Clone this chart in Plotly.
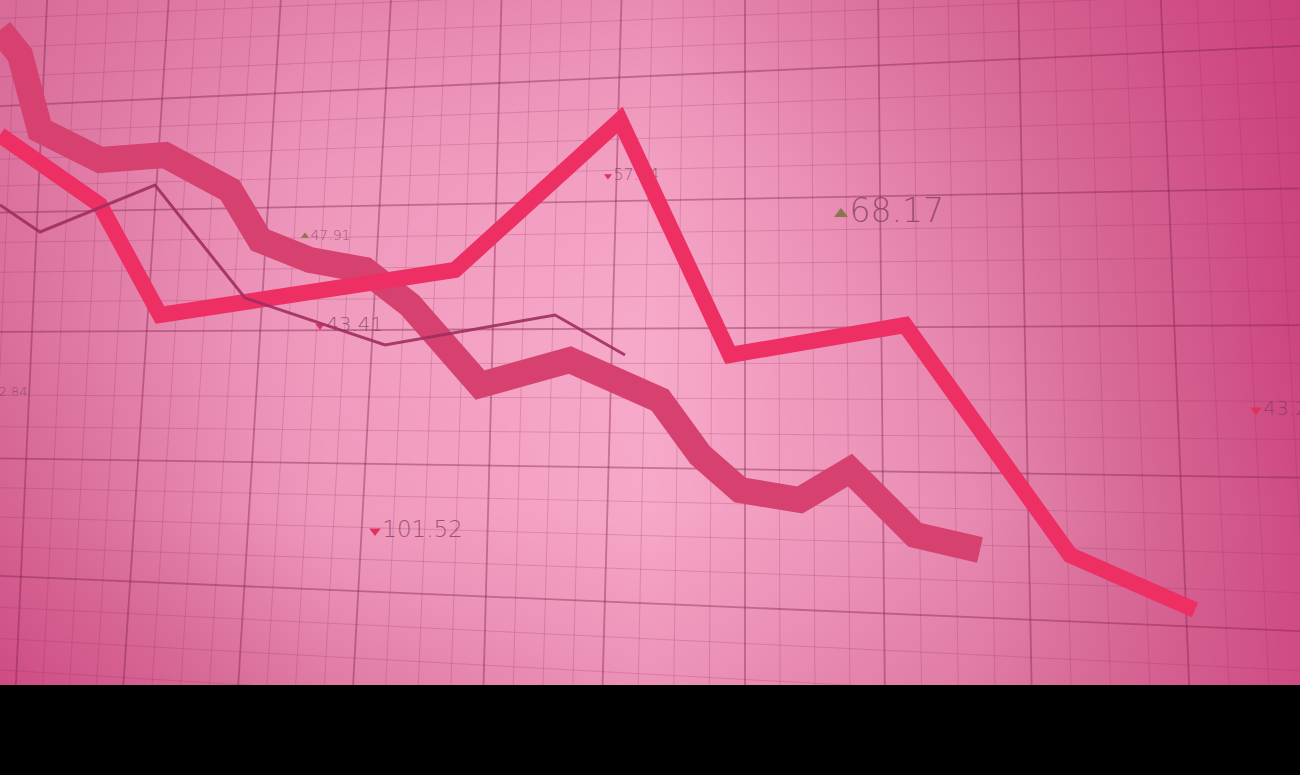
import plotly.graph_objects as go

# ---- data (x = time units, y = value units) ----
thick_x = [0, 2, 4, 10, 16.5, 23, 26, 31, 36.5, 41, 48, 57, 66, 70, 74, 80, 85, 91.5, 98]
thick_y = [65.5, 63.0, 55.5, 52.5, 53.0, 49.5, 44.5, 42.5, 41.5, 38.0, 30.0, 32.5, 28.5, 23.0, 19.5, 18.5, 21.5, 15.0, 13.5]

bright_x = [0, 10, 16, 45.5, 62, 73, 90.5, 107, 119.5]
bright_y = [55.0, 48.0, 37.0, 41.5, 56.5, 33.0, 36.0, 13.0, 7.5]

thin_x = [0, 4, 15.5, 24.5, 38.5, 55.5, 62.5]
thin_y = [48.0, 45.3, 50.0, 38.7, 34.0, 37.0, 33.0]

label_text = ["47.91", "57.34", "43.41", "68.17", "101.52", "52.84", "43.27"]
label_dir = ["up", "down", "down", "up", "down", "down", "down"]
label_x = [30.5, 60.8, 32.0, 84.1, 37.5, -1.5, 125.6]
label_y = [44.9, 50.9, 35.9, 47.1, 15.4, 29.2, 27.5]
label_size = [14, 16, 20, 33, 23, 13, 20]
marker_size = [7, 7, 8, 12, 10, 7, 10]

# background shade (0 = dark edge pink, 1 = light centre pink)
bg_x = [0, 32.5, 65, 97.5, 130]
bg_y = [68.5, 51.5, 34.5, 17.5, 0]
bg_z = [
    [0.42, 0.62, 0.70, 0.38, 0.05],
    [0.48, 0.80, 0.90, 0.52, 0.08],
    [0.45, 0.85, 1.00, 0.62, 0.10],
    [0.35, 0.82, 0.98, 0.68, 0.15],
    [0.15, 0.55, 0.75, 0.55, 0.15],
]

# perspective grid (major lines); top/bottom x of verticals, left/right y of horizontals
v_top = [-7.5, 4.8, 17.0, 28.2, 39.2, 50.2, 62.2, 74.5, 87.8, 101.8, 116.0, 130.5]
v_bot = [-10.5, 1.5, 12.2, 23.7, 35.2, 48.3, 60.2, 74.5, 88.5, 103.2, 119.0, 135.0]
h_left = [69.5, 57.8, 47.2, 35.3, 22.7, 11.0, -1.5]
h_right = [75.0, 64.0, 49.7, 36.0, 20.7, 5.3, -10.5]
X0, X1, Y0, Y1 = 0, 130, 0, 68.5

fig = go.Figure()

fig.add_trace(go.Heatmap(
    x=bg_x, y=bg_y, z=bg_z, zsmooth="best", showscale=False, hoverinfo="skip",
    zmin=0, zmax=1,
    colorscale=[[0, "#c93a76"], [0.45, "#d96e9a"], [0.75, "#ec92b8"], [1, "#f7aac9"]],
))


def grid_paths(a, b, sub):
    out = []
    for i in range(len(a) - 1):
        for k in range(1, sub):
            t = k / sub
            out.append((a[i] + (a[i + 1] - a[i]) * t, b[i] + (b[i + 1] - b[i]) * t))
    return out


def add_grid(pairs_v, pairs_h, color, width):
    gx, gy = [], []
    for top, bot in pairs_v:
        gx += [top, bot, None]
        gy += [Y1 + 2, Y0 - 2, None]
    for left, right in pairs_h:
        gx += [X0 - 2, X1 + 2, None]
        gy += [left, right, None]
    fig.add_trace(go.Scatter(x=gx, y=gy, mode="lines", hoverinfo="skip",
                             line=dict(color=color, width=width), showlegend=False))


add_grid(grid_paths(v_top, v_bot, 4), grid_paths(h_left, h_right, 4),
         "rgba(150,40,85,0.22)", 1)
add_grid(list(zip(v_top, v_bot)), list(zip(h_left, h_right)),
         "rgba(125,30,70,0.40)", 1.8)

# value labels (drawn below the lines)
for i in range(len(label_text)):
    up = label_dir[i] == "up"
    fig.add_trace(go.Scatter(
        x=[label_x[i]], y=[label_y[i]], mode="markers+text",
        text=[label_text[i]], textposition="middle right",
        marker=dict(symbol="triangle-up" if up else "triangle-down",
                    size=marker_size[i], color="#85784a" if up else "#e0305f",
                    line=dict(width=0)),
        textfont=dict(family="DejaVu Sans", size=label_size[i], weight=200,
                      color="rgba(125,60,90,0.75)"),
        hoverinfo="skip", showlegend=False, cliponaxis=True,
    ))

fig.add_trace(go.Scatter(x=thick_x, y=thick_y, mode="lines", hoverinfo="skip",
                         line=dict(color="#d6416f", width=26), showlegend=False))
fig.add_trace(go.Scatter(x=bright_x, y=bright_y, mode="lines", hoverinfo="skip",
                         line=dict(color="#ee2f63", width=16), showlegend=False))
fig.add_trace(go.Scatter(x=thin_x, y=thin_y, mode="lines", hoverinfo="skip",
                         line=dict(color="rgba(160,45,95,0.9)", width=3), showlegend=False))

fig.update_layout(
    width=1300, height=775,
    margin=dict(l=0, r=0, t=0, b=90),
    paper_bgcolor="#000000", plot_bgcolor="#e07aa6",
    xaxis=dict(range=[X0, X1], visible=False, showgrid=False, zeroline=False, fixedrange=True),
    yaxis=dict(range=[Y0, Y1], visible=False, showgrid=False, zeroline=False, fixedrange=True),
    showlegend=False,
)

fig.write_html("out.html", config={"displayModeBar": False},
               post_script="document.body.style.margin='0';document.body.style.background='#000';")
